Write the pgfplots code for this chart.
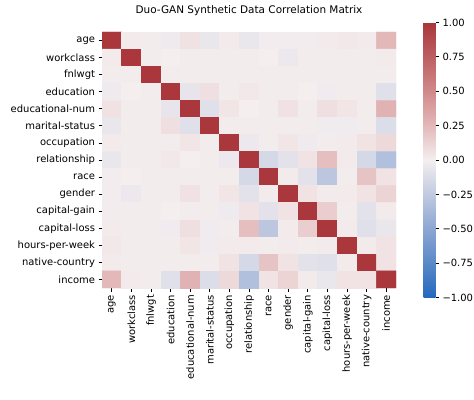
\documentclass[border=0pt]{standalone}
\usepackage{pgfplots}
\pgfplotsset{compat=1.18}
\usepackage{fontspec}
\setmainfont{DejaVu Sans}
\pgfplotsset{colormap={vlag}{rgb255=(35,105,189) rgb255=(90,136,200) rgb255=(140,166,211) rgb255=(192,202,224) rgb255=(244,238,239) rgb255=(227,184,185) rgb255=(209,137,139) rgb255=(189,95,98) rgb255=(169,55,59)}}
\begin{document}
\begin{tikzpicture}[x=1bp,y=1bp]
\path[use as bounding box] (0,0) rectangle (474,399);
\begin{axis}[
  at={(102bp,111bp)}, anchor=south west,
  scale only axis, width=294bp, height=256bp,
  xmin=-0.5, xmax=14.5, ymin=-0.5, ymax=14.5,
  enlargelimits=false,
  axis line style={draw=none},
  tick align=outside, major tick length=3.5bp,
  every tick/.style={black, line width=0.8bp},
  xtick pos=left, ytick pos=left,
  xtick={0,...,14}, ytick={0,...,14},
  xticklabels={age,workclass,fnlwgt,education,educational-num,marital-status,occupation,relationship,race,gender,capital-gain,capital-loss,hours-per-week,native-country,income},
  yticklabels={income,native-country,hours-per-week,capital-loss,capital-gain,gender,race,relationship,occupation,marital-status,educational-num,education,fnlwgt,workclass,age},
  xticklabel style={rotate=90, anchor=east, font=\fontsize{10}{12}\selectfont},
  yticklabel style={font=\fontsize{10}{12}\selectfont},
  title={Duo-GAN Synthetic Data Correlation Matrix},
  title style={at={(0.5,1)}, anchor=base, yshift=13bp, font=\fontsize{10.5}{12.5}\selectfont},
  colormap name=vlag,
  point meta min=-1, point meta max=1,
  colorbar,
  colorbar style={
    at={(parent axis.east)}, anchor=west, xshift=19bp,
    scale only axis, width=12bp, height=275bp,
    axis line style={draw=none},
    tick align=outside, major tick length=3.5bp,
    every tick/.style={black, line width=0.8bp},
    ytick pos=right, yticklabel pos=right,
    ytick={-1,-0.75,-0.5,-0.25,0,0.25,0.5,0.75,1},
    yticklabels={−1.00,−0.75,−0.50,−0.25,0.00,0.25,0.50,0.75,1.00},
    yticklabel style={font=\fontsize{10}{12}\selectfont},
  },
]
\addplot[matrix plot*, mesh/cols=15, point meta=explicit] table[row sep=\\, x index=0, y index=1, meta index=2] {
0 14 1\\ 1 14 0.02\\ 2 14 0.01\\ 3 14 -0.03\\ 4 14 0.06\\ 5 14 -0.05\\ 6 14 0.02\\ 7 14 -0.05\\ 8 14 -0.01\\ 9 14 -0.01\\ 10 14 -0.01\\ 11 14 0.02\\ 12 14 0.03\\ 13 14 0.02\\ 14 14 0.25\\
0 13 0.02\\ 1 13 1\\ 2 13 0.01\\ 3 13 0\\ 4 13 0.01\\ 5 13 0.01\\ 6 13 0.01\\ 7 13 0.01\\ 8 13 0\\ 9 13 -0.04\\ 10 13 0.01\\ 11 13 0.01\\ 12 13 0.01\\ 13 13 0.01\\ 14 13 0.02\\
0 12 0.01\\ 1 12 0.01\\ 2 12 1\\ 3 12 0.01\\ 4 12 0.01\\ 5 12 0.01\\ 6 12 0.01\\ 7 12 0.01\\ 8 12 0.01\\ 9 12 0.01\\ 10 12 0.01\\ 11 12 0.01\\ 12 12 0.01\\ 13 12 0.01\\ 14 12 0.01\\
0 11 -0.03\\ 1 11 0\\ 2 11 0.01\\ 3 11 1\\ 4 11 -0.06\\ 5 11 0.07\\ 6 11 0.01\\ 7 11 0.03\\ 8 11 0.01\\ 9 11 0.01\\ 10 11 0\\ 11 11 -0.02\\ 12 11 0.01\\ 13 11 0.01\\ 14 11 -0.1\\
0 10 0.06\\ 1 10 0.01\\ 2 10 0.01\\ 3 10 -0.06\\ 4 10 1\\ 5 10 -0.1\\ 6 10 0.04\\ 7 10 0\\ 8 10 0.01\\ 9 10 0.06\\ 10 10 0.01\\ 11 10 0.07\\ 12 10 0.04\\ 13 10 0.01\\ 14 10 0.28\\
0 9 -0.05\\ 1 9 0.01\\ 2 9 0.01\\ 3 9 0.07\\ 4 9 -0.1\\ 5 9 1\\ 6 9 0.01\\ 7 9 0.01\\ 8 9 0.01\\ 9 9 0.01\\ 10 9 0.01\\ 11 9 -0.02\\ 12 9 -0.02\\ 13 9 0.01\\ 14 9 -0.12\\
0 8 0.02\\ 1 8 0.01\\ 2 8 0.01\\ 3 8 0.01\\ 4 8 0.04\\ 5 8 0.01\\ 6 8 1\\ 7 8 -0.04\\ 8 8 0.01\\ 9 8 0.04\\ 10 8 -0.03\\ 11 8 0.01\\ 12 8 0.02\\ 13 8 0.05\\ 14 8 0.1\\
0 7 -0.05\\ 1 7 0.01\\ 2 7 0.01\\ 3 7 0.03\\ 4 7 0\\ 5 7 0.01\\ 6 7 -0.04\\ 7 7 1\\ 8 7 -0.15\\ 9 7 -0.08\\ 10 7 0.05\\ 11 7 0.22\\ 12 7 0.02\\ 13 7 -0.15\\ 14 7 -0.32\\
0 6 -0.01\\ 1 6 0\\ 2 6 0.01\\ 3 6 0.01\\ 4 6 0.01\\ 5 6 0.01\\ 6 6 0.01\\ 7 6 -0.15\\ 8 6 1\\ 9 6 0.02\\ 10 6 -0.08\\ 11 6 -0.27\\ 12 6 0.01\\ 13 6 0.2\\ 14 6 0.05\\
0 5 -0.01\\ 1 5 -0.04\\ 2 5 0.01\\ 3 5 0.01\\ 4 5 0.06\\ 5 5 0.01\\ 6 5 0.04\\ 7 5 -0.08\\ 8 5 0.02\\ 9 5 1\\ 10 5 0.05\\ 11 5 0.02\\ 12 5 0.02\\ 13 5 0.05\\ 14 5 0.12\\
0 4 -0.01\\ 1 4 0.01\\ 2 4 0.01\\ 3 4 0\\ 4 4 0.01\\ 5 4 0.01\\ 6 4 -0.03\\ 7 4 0.05\\ 8 4 -0.08\\ 9 4 0.05\\ 10 4 1\\ 11 4 0.15\\ 12 4 0.01\\ 13 4 -0.08\\ 14 4 0.02\\
0 3 0.02\\ 1 3 0.01\\ 2 3 0.01\\ 3 3 -0.02\\ 4 3 0.07\\ 5 3 -0.02\\ 6 3 0.01\\ 7 3 0.22\\ 8 3 -0.27\\ 9 3 0.02\\ 10 3 0.15\\ 11 3 1\\ 12 3 0.02\\ 13 3 -0.1\\ 14 3 -0.05\\
0 2 0.03\\ 1 2 0.01\\ 2 2 0.01\\ 3 2 0.01\\ 4 2 0.04\\ 5 2 -0.02\\ 6 2 0.02\\ 7 2 0.02\\ 8 2 0.01\\ 9 2 0.02\\ 10 2 0.01\\ 11 2 0.02\\ 12 2 1\\ 13 2 0.02\\ 14 2 0.05\\
0 1 0.02\\ 1 1 0.01\\ 2 1 0.01\\ 3 1 0.01\\ 4 1 0.01\\ 5 1 0.01\\ 6 1 0.05\\ 7 1 -0.15\\ 8 1 0.2\\ 9 1 0.05\\ 10 1 -0.08\\ 11 1 -0.1\\ 12 1 0.02\\ 13 1 1\\ 14 1 0.05\\
0 0 0.25\\ 1 0 0.02\\ 2 0 0.01\\ 3 0 -0.1\\ 4 0 0.28\\ 5 0 -0.12\\ 6 0 0.1\\ 7 0 -0.32\\ 8 0 0.05\\ 9 0 0.12\\ 10 0 0.02\\ 11 0 -0.05\\ 12 0 0.05\\ 13 0 0.05\\ 14 0 1\\
};
\end{axis}
\end{tikzpicture}
\end{document}
